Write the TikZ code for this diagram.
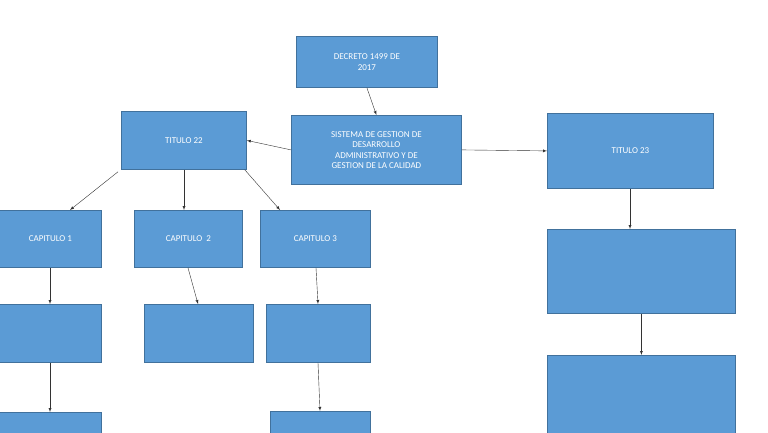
\documentclass[tikz,border=0pt]{standalone}
\usepackage{fontspec}
\setmainfont{Carlito}
\definecolor{boxc}{HTML}{5B9BD5}
\definecolor{bord}{HTML}{41719C}
\newcommand\bxn[6]{\node[bx,minimum width=#4pt-#2pt,minimum height=#5pt-#3pt] (#1) at (#2,#3) {#6};}
\begin{document}
\begin{tikzpicture}[x=1pt,y=-1pt,
 bx/.style={draw=bord,line width=0.8pt,fill=boxc,text=white,font=\fontsize{9}{10.5}\selectfont,align=center,inner sep=1pt,anchor=north west},
 ar/.style={-latex,line width=0.4pt,black!80}]
\useasboundingbox (0,0) rectangle (768,433);
\fill[white] (0,0) rectangle (768,433);
\bxn{dec}{296}{36}{437}{87}{DECRETO 1499 DE\\2017}
\bxn{sis}{291}{115}{461}{184}{SISTEMA DE GESTION DE\\DESARROLLO\\ADMINISTRATIVO Y DE\\GESTION DE LA CALIDAD}
\bxn{t22}{121}{111}{246}{169}{TITULO 22}
\bxn{t23}{547}{113}{713}{188}{TITULO 23}
\bxn{c1}{-1}{210}{101}{267}{CAPITULO 1}
\bxn{c2}{134}{210}{242}{267}{CAPITULO \ 2}
\bxn{c3}{260}{210}{370}{267}{CAPITULO 3}
\bxn{d1}{-1}{304}{101}{362}{}
\bxn{d2}{144}{304}{253}{362}{}
\bxn{d3}{266}{304}{370}{362}{}
\bxn{e1}{-1}{412}{101}{445}{}
\bxn{e3}{270}{411}{370}{445}{}
\bxn{f1}{547}{229}{735}{313}{}
\bxn{f2}{547}{355}{735}{445}{}
\draw[ar] (dec.south) -- (sis.north);
\draw[ar] (sis.west) -- (t22.east);
\draw[ar] (sis.east) -- (t23.west);
\draw[ar] ([xshift=-3pt,yshift=-2pt]t22.south west) -- ([xshift=71pt]c1.north west);
\draw[ar] ([xshift=63pt]t22.south west) -- ([xshift=50pt]c2.north west);
\draw[ar] ([xshift=-2pt]t22.south east) -- ([xshift=20pt]c3.north west);
\draw[ar] ([xshift=51pt]c1.south west) -- ([xshift=51pt]d1.north west);
\draw[ar] ([xshift=54pt]c2.south west) -- ([xshift=54pt]d2.north west);
\draw[ar] ([xshift=56pt]c3.south west) -- ([xshift=52pt]d3.north west);
\draw[ar] ([xshift=51pt]d1.south west) -- ([xshift=51pt]e1.north west);
\draw[ar] ([xshift=52pt]d3.south west) -- ([xshift=50pt]e3.north west);
\draw[ar] ([xshift=83pt]t23.south west) -- ([xshift=83pt]f1.north west);
\draw[ar] (f1.south) -- (f2.north);
\end{tikzpicture}
\end{document}
